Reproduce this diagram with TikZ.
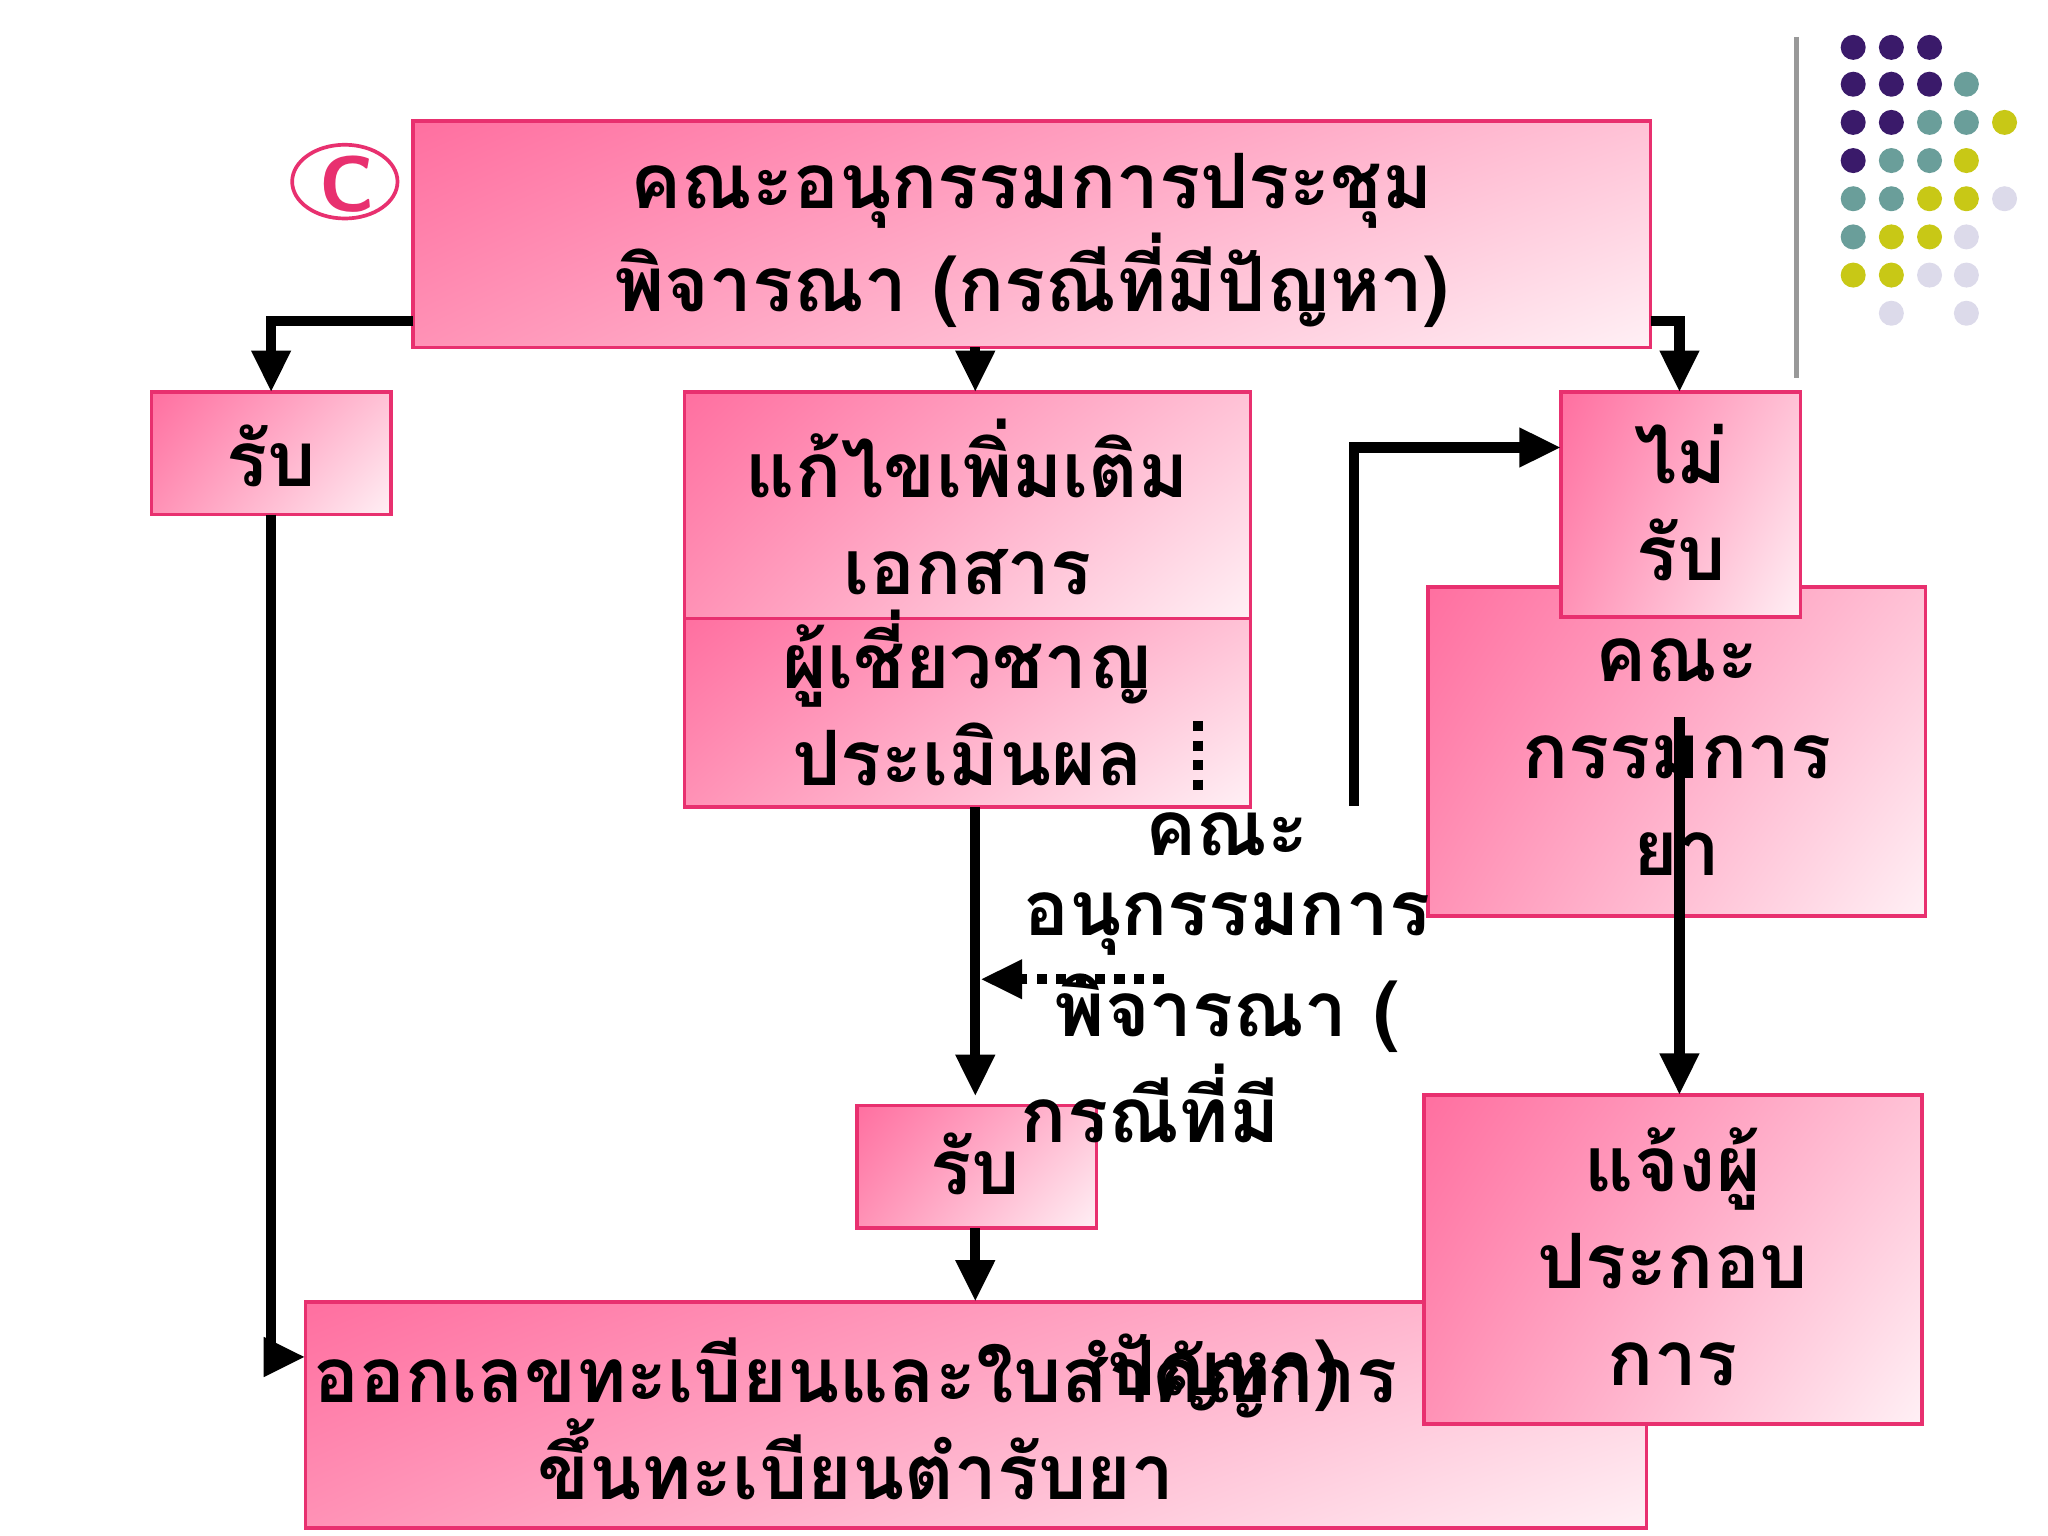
\documentclass[tikz,border=0pt]{standalone}
\usepackage{fontspec}
\newfontfamily\thaifont[Script=Thai]{Loma}
\usetikzlibrary{arrows.meta,shapes.geometric,shadings}
\definecolor{pk1}{HTML}{FF6FA0}
\definecolor{pk2}{HTML}{FFC2D6}
\definecolor{pk3}{HTML}{FF92B6}
\definecolor{pk4}{HTML}{FFF0F5}
\definecolor{pbord}{HTML}{E8306F}
\definecolor{dP}{HTML}{3A1A6A}
\definecolor{dT}{HTML}{6A9E9A}
\definecolor{dY}{HTML}{C8C816}
\definecolor{dL}{HTML}{DCDAEA}
\tikzset{
 bx/.style={draw=pbord,line width=0.8pt,upper left=pk1,upper right=pk2,lower left=pk3,lower right=pk4},
 tx/.style={font=\thaifont\bfseries\fontsize{16.5}{21}\selectfont,align=center,text=black},
 ar/.style={line width=2.2pt,-{Triangle[length=9pt,width=8pt]}},
 dt/.style={line width=2.2pt,dotted},
}
\begin{document}
\begin{tikzpicture}[x=0.01cm,y=-0.01cm]
\useasboundingbox (0,0) rectangle (1556,1167);
\foreach \c/\x/\y in {dP/1408/36,dP/1437/36,dP/1466/36,
 dP/1408/64,dP/1437/64,dP/1466/64,dT/1494/64,
 dP/1408/93,dP/1437/93,dT/1466/93,dT/1494/93,dY/1523/93,
 dP/1408/122,dT/1437/122,dT/1466/122,dY/1494/122,
 dT/1408/151,dT/1437/151,dY/1466/151,dY/1494/151,dL/1523/151,
 dT/1408/180,dY/1437/180,dY/1466/180,dL/1494/180,
 dY/1408/209,dY/1437/209,dL/1466/209,dL/1494/209,
 dL/1437/238,dL/1494/238}
 \fill[\c] (\x,\y) circle (9.5);
\draw[gray!80,line width=1pt] (1365,28) -- (1365,287);
% C mark
\node[draw=pbord,fill=white,ellipse,minimum width=0.8cm,minimum height=0.56cm,line width=0.8pt,inner sep=0] (cm) at (262,138) {};
\node[font=\sffamily\bfseries\fontsize{17}{20}\selectfont,text=pbord] (cl) at (264,140) {C};
% boxes
\shade[bx] (314,92) rectangle (1254,264);
\node[tx] (top) at (784,183) {คณะอนุกรรมการประชุม\\พิจารณา (กรณีที่มีปัญหา)};
\shade[bx] (115,298) rectangle (297,391);
\node[tx] (r1) at (206,346) {รับ};
\shade[bx] (520,298) rectangle (950,470);
\node[tx] (ed) at (735,385) {แก้ไขเพิ่มเติม\\เอกสาร};
\shade[bx] (520,470) rectangle (950,613);
\node[tx] (ex) at (735,530) {ผู้เชี่ยวชาญ\\ประเมินผล};
\shade[bx] (1085,446) rectangle (1463,696);
\node[tx] (cm2) at (1274,575) {คณะ\\กรรมการ\\ยา};
\shade[bx] (1186,298) rectangle (1368,469);
\node[tx] (no) at (1277,382) {ไม่\\รับ};
\shade[bx] (651,840) rectangle (833,933);
\node[tx] (r2) at (741,884) {รับ};
\shade[bx] (232,989) rectangle (1251,1161);
\node[tx] (iss) at (650,1078) {ออกเลขทะเบียนและใบสำคัญการ\\ขึ้นทะเบียนตำรับยา};
\shade[bx] (1082,832) rectangle (1460,1082);
\node[tx] (inf) at (1271,955) {แจ้งผู้\\ประกอบ\\การ};
% floating text
\node[tx] (f1) at (932,634) {คณะ};
\node[tx] (f2) at (932,702) {อนุกรรมการ};
\node[tx] (f3) at (932,770) {พิจารณา (};
\node[tx] (f4) at (874,838) {กรณีที่มี};
\node[tx] (f5) at (930,1043) {ปัญหา)};
% connectors
\coordinate (a1) at (314,244); \coordinate (a2) at (206,244);
\draw[ar] (a1) -- (a2) -- (206,298);
\draw[ar] (741,264) -- (741,298);
\draw[ar] (1254,244) -- (1276,244) -- (1276,298);
\draw[ar] (206,391) -- (206,1031) -- (232,1031);
\draw[ar] (741,613) -- (741,833);
\draw[ar] (741,933) -- (741,989);
\draw[dt] (910,548) -- (910,607);
\draw[dt,-{Triangle[length=9pt,width=8pt]}] (884,744) -- (745,744);
\draw[ar] (1029,612) -- (1029,340) -- (1186,340);
\draw[ar] (1276,545) -- (1276,832);
\end{tikzpicture}
\end{document}
